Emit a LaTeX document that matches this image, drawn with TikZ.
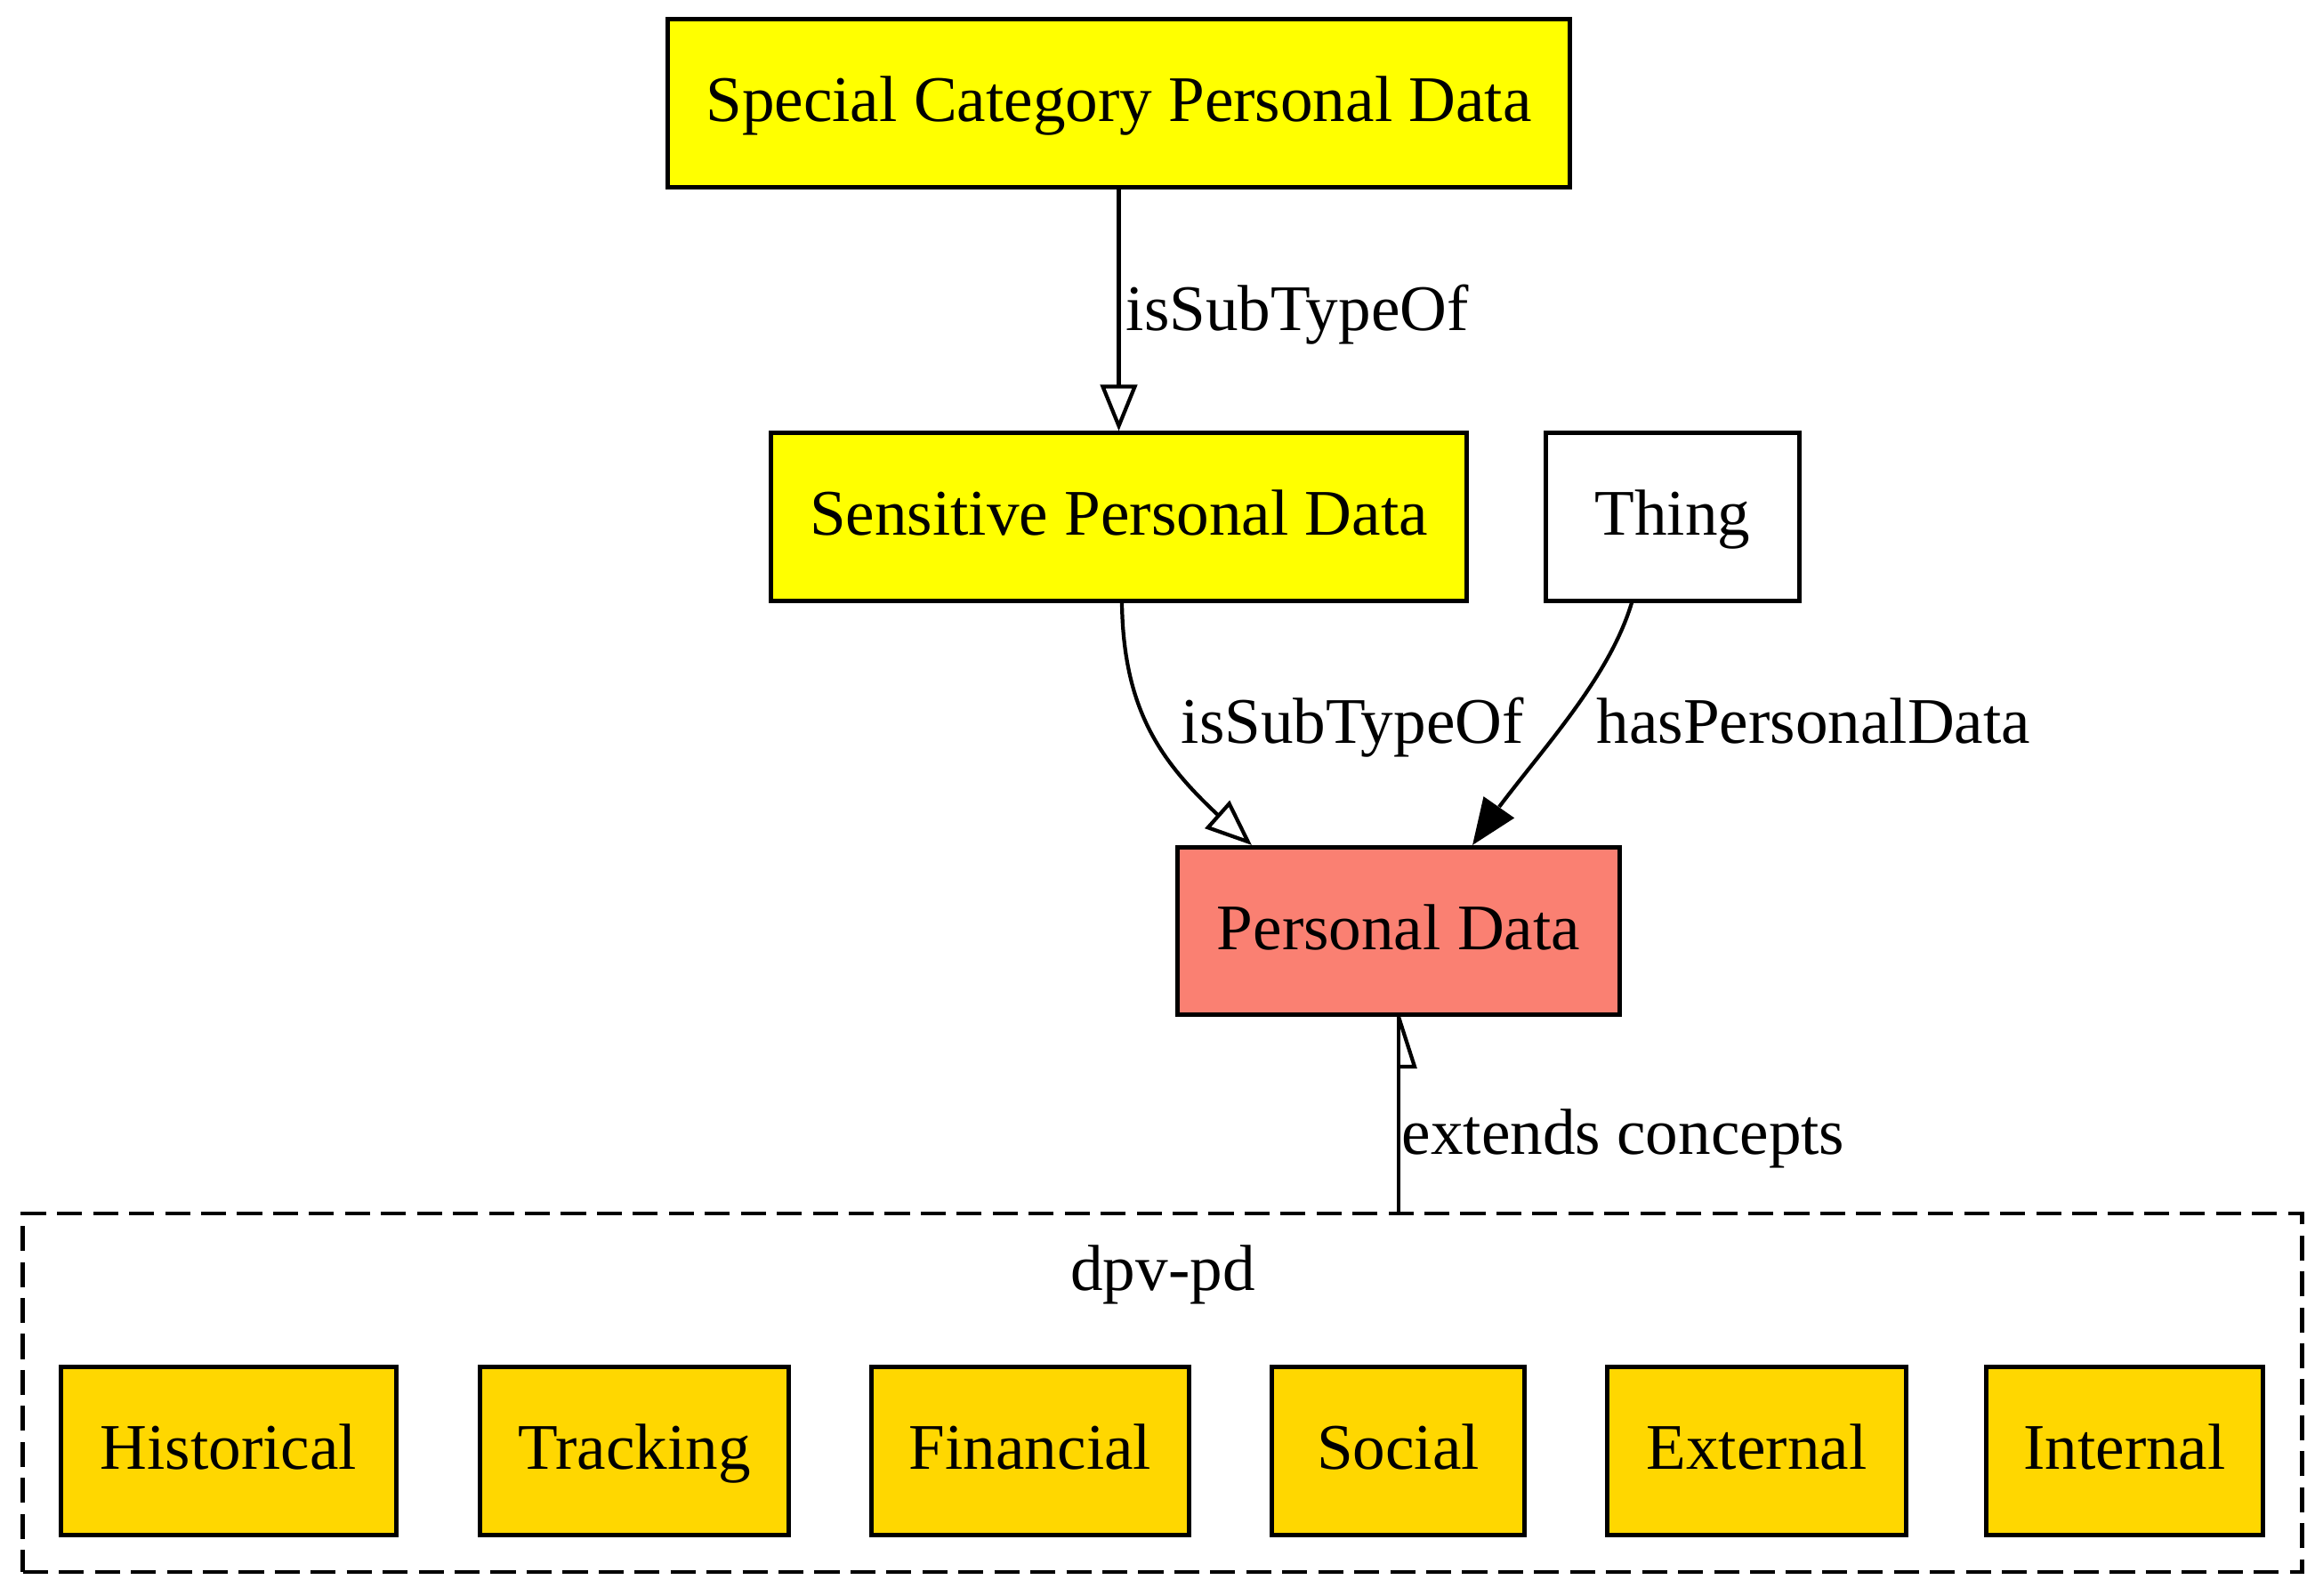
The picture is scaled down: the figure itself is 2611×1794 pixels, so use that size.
\documentclass[tikz,border=0pt]{standalone}
\usepackage{fontspec}
\setmainfont{Liberation Serif}
\usetikzlibrary{arrows.meta,calc,bending}
\definecolor{gvyellow}{HTML}{FFFF00}
\definecolor{gvsalmon}{HTML}{FA8072}
\definecolor{gvgold}{HTML}{FFD700}
\begin{document}
\begin{tikzpicture}[x=0.01cm,y=-0.01cm,
  every node/.style={font=\fontsize{20.8}{24}\selectfont},
  box/.style={draw, line width=1.4pt, inner sep=0pt, text height=16.4pt, text depth=4.5pt, minimum height=1.88cm},
  edgeline/.style={line width=1.2pt, draw=black},
  subtype/.style={edgeline, -{Triangle[open, length=14.8pt, width=11.7pt]}},
  haspd/.style={edgeline, -{Triangle[length=14.8pt, width=11.7pt]}},
  lbl/.style={anchor=base west, inner sep=0pt},
  cluster/.style={draw, line width=1.3pt, dash pattern=on 8pt off 3.5pt, inner sep=0pt}
]
\useasboundingbox (0,0) rectangle (2611,1794);

% nodes
\node[box, fill=gvyellow, minimum width=10.13cm] (scpd) at (1257.5,116) {Special Category Personal Data};
\node[box, fill=gvyellow, minimum width=7.81cm] (spd) at (1257.5,581) {Sensitive Personal Data};
\node[box, fill=white, minimum width=2.84cm] (thing) at (1880,581) {Thing};
\node[box, fill=gvsalmon, minimum width=4.96cm] (pd) at (1572,1046.5) {Personal Data};

% cluster
\node[cluster, minimum width=25.6cm, minimum height=4.03cm] (dpv) at (1306.5,1565.5) {};
\node[anchor=base, inner sep=0pt] (dpvlabel) at (1307,1450) {dpv-pd};

\node[box, fill=gvgold, minimum width=3.76cm] (hist) at (257,1631) {Historical};
\node[box, fill=gvgold, minimum width=3.47cm] (track) at (713,1631) {Tracking};
\node[box, fill=gvgold, minimum width=3.57cm] (fin) at (1158,1631) {Financial};
\node[box, fill=gvgold, minimum width=2.83cm] (soc) at (1571.5,1631) {Social};
\node[box, fill=gvgold, minimum width=3.35cm] (ext) at (1974.5,1631) {External};
\node[box, fill=gvgold, minimum width=3.10cm] (int) at (2388,1631) {Internal};

% edges
\draw[subtype] (scpd.south) -- (spd.north);
\draw[subtype] ($(spd.south)+(3.5,0)$) .. controls +(2,140) and +(-88,-76) .. ($(pd.north)+(-165,0)$);
\draw[haspd] ($(thing.south)+(-46,0)$) .. controls +(-30,100) and +(50,-80) .. ($(pd.north)+(83,0)$);
\draw[edgeline] (pd.south |- dpv.north) -- (pd.south);
\draw[edgeline, line join=miter] (pd.south) -- ++(18,56) -- ++(-18,0);

% labels
\node[lbl] (l1) at (1265,372) {isSubTypeOf};
\node[lbl] (l2) at (1327,835) {isSubTypeOf};
\node[lbl] (l3) at (1794,835) {hasPersonalData};
\node[lbl] (l4) at (1575,1297) {extends concepts};
\end{tikzpicture}
\end{document}
